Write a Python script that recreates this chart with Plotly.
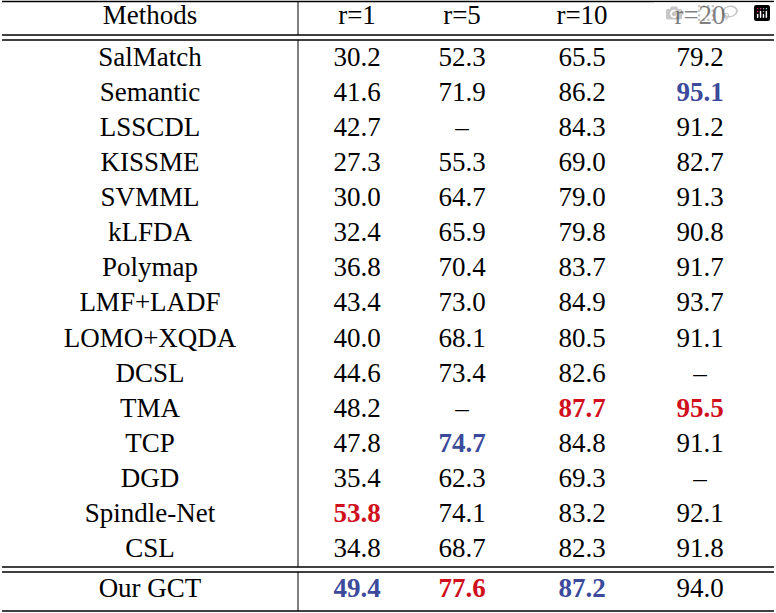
import plotly.graph_objects as go

headers = ["Methods", "r=1", "r=5", "r=10", "r=20"]
methods = ["SalMatch", "Semantic", "LSSCDL", "KISSME", "SVMML", "kLFDA", "Polymap",
           "LMF+LADF", "LOMO+XQDA", "DCSL", "TMA", "TCP", "DGD", "Spindle-Net", "CSL", "Our GCT"]
r1 = ["30.2", "41.6", "42.7", "27.3", "30.0", "32.4", "36.8", "43.4", "40.0", "44.6", "48.2", "47.8", "35.4", "53.8", "34.8", "49.4"]
r5 = ["52.3", "71.9", "–", "55.3", "64.7", "65.9", "70.4", "73.0", "68.1", "73.4", "–", "74.7", "62.3", "74.1", "68.7", "77.6"]
r10 = ["65.5", "86.2", "84.3", "69.0", "79.0", "79.8", "83.7", "84.9", "80.5", "82.6", "87.7", "84.8", "69.3", "83.2", "82.3", "87.2"]
r20 = ["79.2", "95.1", "91.2", "82.7", "91.3", "90.8", "91.7", "93.7", "91.1", "–", "95.5", "91.1", "–", "92.1", "91.8", "94.0"]
# highlights: (row, col) -> 'red' / 'blue'
highlights = {(1, 4): "blue", (10, 3): "red", (10, 4): "red", (11, 2): "blue",
              (13, 1): "red", (15, 1): "blue", (15, 2): "red", (15, 3): "blue"}

RED = "#d0101c"
BLUE = "#3b4a9b"
W, H = 776, 613
colx = [150, 357, 462, 582, 700]
header_y = 17
row_y = [59 + 35.1 * i for i in range(15)] + [590]
font = "Liberation Serif, DejaVu Serif, serif"
FS = 27

fig = go.Figure()
cols = [methods, r1, r5, r10, r20]
fig.add_trace(go.Scatter(x=colx, y=[header_y] * 5, mode="text", text=headers,
                         textfont=dict(family=font, size=FS, color="black"),
                         hoverinfo="skip", showlegend=False))
for ci, col in enumerate(cols):
    xs, ys, txt, colors = [], [], [], []
    for ri, v in enumerate(col):
        c = highlights.get((ri, ci))
        xs.append(colx[ci]); ys.append(row_y[ri])
        if c:
            txt.append(f"<b>{v}</b>")
            colors.append(RED if c == "red" else BLUE)
        else:
            txt.append(v)
            colors.append("black")
    fig.add_trace(go.Scatter(x=xs, y=ys, mode="text", text=txt,
                             textfont=dict(family=font, size=FS, color=colors),
                             hoverinfo="skip", showlegend=False))

lw = 1.3
for y in [1.5, 35, 40, 567, 572, 611]:
    fig.add_shape(type="line", x0=2, x1=774, y0=y, y1=y, line=dict(color="black", width=lw))
for (y0, y1) in [(1.5, 35), (40, 567), (572, 611)]:
    fig.add_shape(type="line", x0=298, x1=298, y0=y0, y1=y1, line=dict(color="black", width=1))

fig.update_layout(width=W, height=H, margin=dict(l=0, r=0, t=0, b=0),
                  plot_bgcolor="white", paper_bgcolor="white",
                  xaxis=dict(range=[0, W], visible=False, fixedrange=True),
                  yaxis=dict(range=[H, 0], visible=False, fixedrange=True))
fig.write_html("out.html", post_script="document.body.style.margin='0';document.body.style.overflow='hidden';")
